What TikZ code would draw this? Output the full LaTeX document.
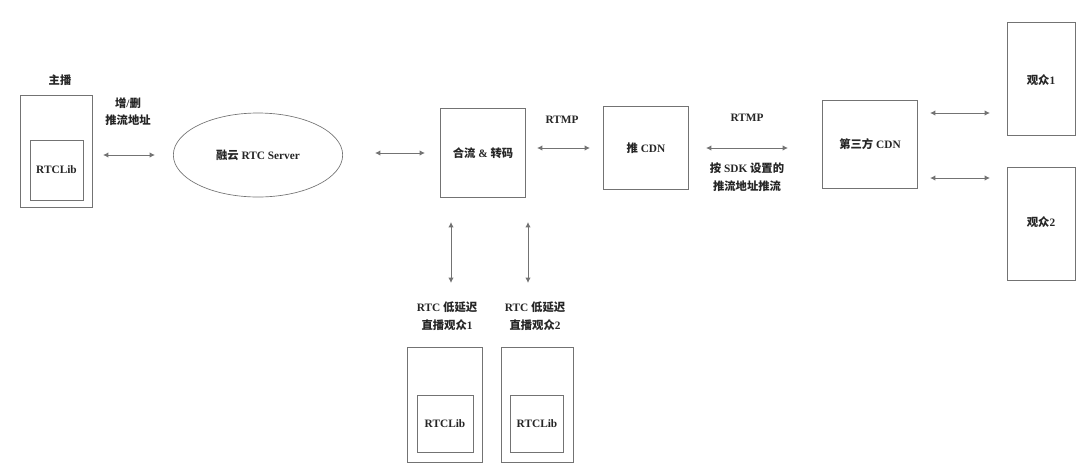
\documentclass[tikz,border=0pt]{standalone}
\usepackage{fontspec}
\setmainfont{Liberation Serif}
\newfontfamily\cjk{Noto Sans CJK SC}
\usetikzlibrary{arrows.meta,shapes.geometric}
\newcommand{\zh}[1]{{\cjk #1}}
\tikzset{
  x=0.75pt,y=-0.75pt,
  box/.style={draw=black!55,line width=0.5pt,fill=white},
  lbl/.style={font=\fontsize{8.5}{10}\selectfont\bfseries,text=black!85,align=center,inner sep=0},
  dbl/.style={draw=black!55,line width=0.7pt,{Latex[length=4pt,width=4pt]}-{Latex[length=4pt,width=4pt]}}
}
\begin{document}
\begin{tikzpicture}
\useasboundingbox (0,0) rectangle (1080,462);
% host
\node[lbl] (hostl) at (60,80) {\zh{主播}};
\draw[box] (20,95) rectangle (92,207);
\node[box,minimum width=40pt,minimum height=45pt,lbl,inner sep=0] (lib0) at (56.5,170) {RTCLib};
\node[lbl] (addl) at (128,112) {\zh{增}/\zh{删}\\[3pt]\zh{推流地址}};
\coordinate (a1s) at (103,155); \coordinate (a1e) at (155,155);
\draw[dbl] (a1s) -- (a1e);
\node[draw=black!55,line width=0.5pt,ellipse,minimum width=127pt,minimum height=63pt,lbl] (srv) at (258,155) {\zh{融云} RTC Server};
\coordinate (a2s) at (375,153); \coordinate (a2e) at (425,153);
\draw[dbl] (a2s) -- (a2e);
\node[box,minimum width=64pt,minimum height=67pt,lbl] (mix) at (483,153) {\zh{合流} \& \zh{转码}};
\node[lbl] (rtmp1) at (562,120) {RTMP};
\coordinate (a3s) at (537,148); \coordinate (a3e) at (590,148);
\draw[dbl] (a3s) -- (a3e);
\node[box,minimum width=64pt,minimum height=62pt,lbl] (pcdn) at (646,148) {\zh{推} CDN};
\node[lbl] (rtmp2) at (747,118) {RTMP};
\coordinate (a4s) at (706,148); \coordinate (a4e) at (788,148);
\draw[dbl] (a4s) -- (a4e);
\node[lbl] (sdkl) at (747,177) {\zh{按} SDK \zh{设置的}\\[3pt]\zh{推流地址推流}};
\node[box,minimum width=71pt,minimum height=66pt,lbl] (tcdn) at (870,144) {\zh{第三方} CDN};
\coordinate (a5s) at (930,113); \coordinate (a5e) at (990,113);
\draw[dbl] (a5s) -- (a5e);
\coordinate (a6s) at (930,178); \coordinate (a6e) at (990,178);
\draw[dbl] (a6s) -- (a6e);
\draw[box] (1007,22) rectangle (1075,135);
\node[lbl] (v1) at (1041,80) {\zh{观众}1};
\draw[box] (1007,167) rectangle (1075,280);
\node[lbl] (v2) at (1041,222) {\zh{观众}2};
% bottom
\coordinate (b1s) at (451,222); \coordinate (b1e) at (451,283);
\draw[dbl] (b1s) -- (b1e);
\coordinate (b2s) at (528,222); \coordinate (b2e) at (528,283);
\draw[dbl] (b2s) -- (b2e);
\node[lbl] (l1) at (447,316) {RTC \zh{低延迟}\\[3pt]\zh{直播观众}1};
\node[lbl] (l2) at (535,316) {RTC \zh{低延迟}\\[3pt]\zh{直播观众}2};
\draw[box] (407,347) rectangle (482,462);
\node[box,minimum width=42pt,minimum height=43pt,lbl] (lib1) at (445,424) {RTCLib};
\draw[box] (501,347) rectangle (573,462);
\node[box,minimum width=40pt,minimum height=43pt,lbl] (lib2) at (537,424) {RTCLib};
\end{tikzpicture}
\end{document}
